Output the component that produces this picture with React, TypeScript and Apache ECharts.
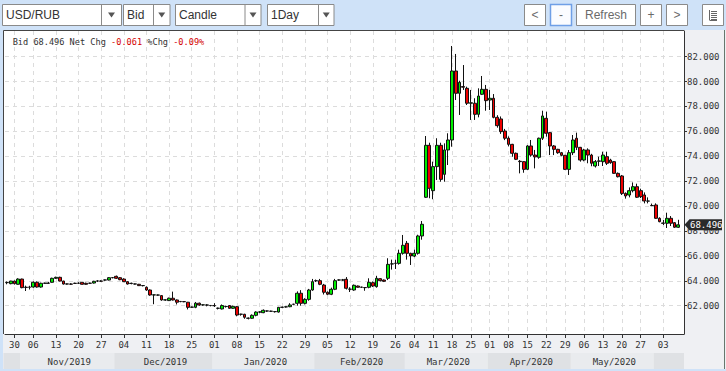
import React, { useEffect, useRef } from "react";
import * as echarts from "echarts";

// ---------- data ----------
const dates: string[] = [
  "2019-10-28","2019-10-29","2019-10-30","2019-10-31","2019-11-01","2019-11-04","2019-11-05","2019-11-06","2019-11-07","2019-11-08",
  "2019-11-09","2019-11-11","2019-11-12","2019-11-13","2019-11-14","2019-11-15","2019-11-16","2019-11-18","2019-11-19","2019-11-20",
  "2019-11-21","2019-11-22","2019-11-23","2019-11-25","2019-11-26","2019-11-27","2019-11-28","2019-11-29","2019-11-30","2019-12-02",
  "2019-12-03","2019-12-04","2019-12-05","2019-12-06","2019-12-07","2019-12-09","2019-12-10","2019-12-11","2019-12-12","2019-12-13",
  "2019-12-14","2019-12-16","2019-12-17","2019-12-18","2019-12-19","2019-12-20","2019-12-21","2019-12-23","2019-12-24","2019-12-25",
  "2019-12-26","2019-12-27","2019-12-28","2019-12-30","2019-12-31","2020-01-01","2020-01-02","2020-01-03","2020-01-04","2020-01-06",
  "2020-01-07","2020-01-08","2020-01-09","2020-01-10","2020-01-11","2020-01-13","2020-01-14","2020-01-15","2020-01-16","2020-01-17",
  "2020-01-18","2020-01-20","2020-01-21","2020-01-22","2020-01-23","2020-01-24","2020-01-25","2020-01-27","2020-01-28","2020-01-29",
  "2020-01-30","2020-01-31","2020-02-01","2020-02-03","2020-02-04","2020-02-05","2020-02-06","2020-02-07","2020-02-08","2020-02-10",
  "2020-02-11","2020-02-12","2020-02-13","2020-02-14","2020-02-15","2020-02-17","2020-02-18","2020-02-19","2020-02-20","2020-02-21",
  "2020-02-22","2020-02-24","2020-02-25","2020-02-26","2020-02-27","2020-02-28","2020-03-02","2020-03-03","2020-03-04","2020-03-05",
  "2020-03-06","2020-03-09","2020-03-10","2020-03-11","2020-03-12","2020-03-13","2020-03-16","2020-03-17","2020-03-18","2020-03-19",
  "2020-03-20","2020-03-23","2020-03-24","2020-03-25","2020-03-26","2020-03-27","2020-03-30","2020-03-31","2020-04-01","2020-04-02",
  "2020-04-03","2020-04-06","2020-04-07","2020-04-08","2020-04-09","2020-04-10","2020-04-13","2020-04-14","2020-04-15","2020-04-16",
  "2020-04-17","2020-04-20","2020-04-21","2020-04-22","2020-04-23","2020-04-24","2020-04-27","2020-04-28","2020-04-29","2020-04-30",
  "2020-05-01","2020-05-04","2020-05-05","2020-05-06","2020-05-07","2020-05-08","2020-05-11","2020-05-12","2020-05-13","2020-05-14",
  "2020-05-15","2020-05-18","2020-05-19","2020-05-20","2020-05-21","2020-05-22","2020-05-25","2020-05-26","2020-05-27","2020-05-28",
  "2020-05-29","2020-05-30","2020-06-01","2020-06-02","2020-06-03","2020-06-04","2020-06-05","2020-06-08","2020-06-09","2020-06-10",
];

const open: number[] = [
  63.85,63.77,63.98,63.72,64.14,63.48,63.48,63.50,63.88,63.50,
  63.80,63.80,63.88,64.20,64.28,63.98,63.74,63.74,63.80,63.80,
  63.88,63.80,63.80,63.82,63.98,63.98,64.06,64.06,64.25,64.36,
  64.25,64.14,63.93,63.80,63.74,63.72,63.61,63.48,63.26,62.86,
  62.86,62.81,62.46,62.41,62.60,62.46,62.33,62.33,62.28,61.88,
  61.87,62.20,62.06,62.06,62.01,62.01,61.79,61.74,61.93,62.01,
  61.79,61.92,61.31,61.31,60.99,60.99,61.23,61.49,61.44,61.57,
  61.55,61.52,61.49,61.87,61.90,61.92,62.11,62.19,63.00,62.19,
  62.51,63.26,64.00,64.01,63.66,63.08,62.92,63.32,64.06,64.06,
  64.12,63.32,63.26,63.58,63.48,63.45,63.48,63.85,63.53,64.17,
  64.06,64.20,65.35,65.40,65.40,66.21,67.01,66.21,65.99,66.21,
  67.60,70.71,74.88,71.24,73.17,74.88,72.55,74.51,75.31,80.85,
  79.06,79.60,79.46,78.26,78.26,77.37,78.98,79.38,78.52,78.66,
  77.13,77.00,76.03,75.45,74.96,74.24,73.60,73.57,72.95,74.83,
  74.10,73.92,75.45,77.05,75.90,74.83,74.56,74.29,74.08,72.95,
  74.29,75.45,74.72,73.70,74.51,74.10,73.22,73.60,73.57,73.97,
  73.70,73.57,72.63,72.42,71.02,70.89,71.24,71.56,71.24,70.89,
  70.41,70.05,70.09,69.02,68.62,68.62,69.02,68.67,68.30,
];

const close: number[] = [
  63.86,63.98,63.77,64.14,63.45,63.47,63.49,63.88,63.50,63.80,
  63.81,63.81,64.20,64.28,63.98,63.74,63.75,63.73,63.79,63.81,
  63.72,63.72,63.81,63.96,63.99,63.97,64.07,64.25,64.26,64.20,
  64.09,63.93,63.74,63.78,63.75,63.61,63.62,63.26,62.86,62.87,
  62.85,62.46,62.47,62.60,62.46,62.28,62.34,62.32,61.87,61.89,
  62.20,62.06,62.07,62.05,62.02,62.00,61.80,62.01,61.94,61.79,
  61.95,61.25,61.32,61.07,61.00,61.23,61.49,61.50,61.63,61.58,
  61.56,61.53,61.87,61.88,61.91,62.06,62.12,63.00,62.19,62.51,
  63.26,63.93,64.01,63.72,63.08,62.92,63.32,64.01,64.07,64.07,
  63.40,63.33,63.64,63.48,63.49,63.46,63.88,63.58,64.20,64.01,
  63.96,65.32,65.36,65.41,66.21,66.85,66.21,65.99,66.21,67.60,
  68.54,74.88,71.43,73.17,74.88,72.15,74.51,75.31,80.85,79.06,
  79.94,79.55,78.26,78.30,77.37,78.84,79.38,78.47,78.66,77.13,
  76.46,75.98,75.45,74.96,74.24,73.76,73.57,72.95,74.83,74.10,
  73.95,75.45,77.24,75.85,74.83,74.56,74.29,74.08,72.95,74.29,
  75.31,74.72,73.70,74.51,74.10,73.44,73.57,73.63,74.10,73.44,
  73.49,72.63,72.36,71.02,70.81,71.24,71.56,70.71,70.76,70.41,
  70.40,70.03,69.02,68.75,68.64,69.02,68.62,68.30,68.496,
];

const low: number[] = [
  63.72,63.72,63.70,63.70,63.40,63.18,63.30,63.45,63.45,63.45,
  63.75,63.75,63.85,64.15,63.95,63.70,63.70,63.68,63.75,63.74,
  63.70,63.68,63.75,63.78,63.90,63.92,64.00,64.03,64.20,64.15,
  64.05,63.90,63.70,63.72,63.70,63.58,63.55,63.20,62.80,62.12,
  62.80,62.40,62.40,62.38,62.42,62.10,62.28,62.28,61.70,61.84,
  61.80,62.00,62.00,61.95,61.95,61.90,61.70,61.70,61.85,61.75,
  61.75,61.15,61.20,60.95,60.90,60.95,61.15,61.40,61.40,61.50,
  61.50,61.45,61.45,61.80,61.85,61.88,62.05,62.00,62.00,62.10,
  62.40,63.20,63.90,63.65,62.90,62.85,62.85,63.25,64.00,64.00,
  63.30,63.10,63.20,63.45,63.44,63.20,63.40,63.50,63.45,63.95,
  63.90,64.06,64.90,64.95,65.30,66.10,65.70,65.27,65.90,66.10,
  67.30,70.65,70.63,70.55,72.10,71.96,71.96,73.30,74.77,78.52,
  77.32,79.33,78.12,76.92,76.92,77.13,78.92,77.66,77.72,77.05,
  76.30,75.80,75.30,74.80,73.97,73.70,72.63,72.68,72.90,73.97,
  73.03,73.80,75.31,75.58,74.10,74.10,74.20,74.00,72.90,72.50,
  74.10,74.50,73.57,73.60,73.44,73.20,73.10,73.22,73.22,73.30,
  73.40,72.60,72.30,70.89,70.60,70.70,71.10,70.65,70.65,70.22,
  70.22,70.00,68.97,68.70,68.48,68.24,68.40,68.25,68.25,
];

const high: number[] = [
  63.95,64.00,64.02,64.20,64.17,63.61,63.60,63.95,63.95,63.85,
  63.85,63.90,64.25,64.33,64.33,64.00,63.78,63.80,63.85,63.88,
  63.90,63.85,63.85,64.00,64.05,64.04,64.10,64.30,64.30,64.42,
  64.30,64.20,63.95,63.85,63.78,63.75,63.65,63.55,63.30,62.90,
  62.90,62.85,62.50,62.65,63.13,62.50,62.38,62.36,62.30,61.92,
  62.30,62.25,62.10,62.12,62.05,62.20,61.85,62.10,62.00,62.05,
  62.00,61.98,61.35,61.35,61.05,61.30,61.55,61.55,61.70,61.62,
  61.60,61.56,61.90,61.92,61.95,62.20,62.15,63.15,63.25,62.60,
  63.35,64.15,64.10,64.15,63.75,63.15,63.45,64.15,64.12,64.15,
  64.30,63.48,63.70,63.62,63.52,63.50,64.20,63.95,64.40,64.20,
  64.10,65.81,65.70,65.70,66.50,67.68,67.20,66.25,66.50,67.70,
  68.80,75.63,75.09,73.57,75.45,75.09,75.04,75.85,82.86,82.22,
  80.07,81.33,79.59,79.33,78.66,79.46,80.45,79.73,79.33,79.00,
  77.30,77.20,76.20,75.60,75.00,74.30,73.70,73.60,74.90,75.31,
  74.51,75.50,77.66,77.58,75.95,74.90,74.60,74.35,74.10,74.50,
  75.71,75.90,74.75,74.60,74.64,74.20,73.70,73.97,74.37,74.37,
  73.80,73.60,72.70,72.50,71.10,71.50,71.90,71.80,71.40,71.10,
  70.70,70.20,70.22,69.10,68.89,69.47,69.20,68.70,68.90,
];

const yTicks: number[] = [62, 64, 66, 68, 70, 72, 74, 76, 78, 80, 82];
const lastBid = 68.496;
const netChg = -0.061;
const pctChg = -0.09;
const monthAbbr: string[] = ["Jan","Feb","Mar","Apr","May","Jun","Jul","Aug","Sep","Oct","Nov","Dec"];
const selectLabels: string[] = ["USD/RUB", "Bid", "Candle", "1Day"];
const buttonLabels: string[] = ["<", "-", "Refresh", "+", ">"];

const MONO = '"DejaVu Sans Mono", monospace';
const SANS = '"Liberation Sans", Arial, sans-serif';

export default function App() {
  const ref = useRef<HTMLDivElement>(null);

  useEffect(() => {
    document.body.style.margin = "0";
    const el = ref.current!;
    const chart = echarts.init(el, null, { renderer: "svg" });

    const isWed = (i: number) => {
      const d = dates[i];
      return i < open.length && !!d && new Date(d + "T00:00:00Z").getUTCDay() === 3;
    };
    const candle = open.map((o, i) => [o, close[i], low[i], high[i]]);

    chart.setOption({
      animation: false,
      backgroundColor: "#eff0f3",
      grid: { left: 5, right: 42, top: 31, bottom: 37, show: true, backgroundColor: "#ffffff", borderWidth: 0 },
      xAxis: {
        type: "category",
        data: dates,
        boundaryGap: true,
        axisLine: { show: true, lineStyle: { color: "#333", width: 1 } },
        axisTick: { show: true, alignWithLabel: true, interval: (i: number) => isWed(i), length: 4, lineStyle: { color: "#333" } },
        axisLabel: {
          interval: (i: number) => isWed(i),
          formatter: (v: string) => v.slice(8, 10),
          fontFamily: MONO, fontSize: 9, color: "#333", margin: 6,
        },
        splitLine: {
          show: true, alignWithLabel: true, interval: (i: number) => isWed(i),
          lineStyle: { color: "#dcdcdc", type: [4, 4], width: 1 },
        },
      },
      yAxis: {
        type: "value",
        position: "right",
        min: 59.727,
        max: 84.064,
        axisLine: { show: true, lineStyle: { color: "#333", width: 1 } },
        axisTick: { show: true, length: 3, customValues: yTicks, lineStyle: { color: "#333" } },
        axisLabel: {
          customValues: yTicks,
          formatter: (v: number) => v.toFixed(3),
          fontFamily: MONO, fontSize: 9, color: "#333", margin: 3,
        },
        splitLine: { show: true, lineStyle: { color: "#dcdcdc", type: [4, 4], width: 1 } },
      },
      series: [
        {
          type: "candlestick",
          data: candle,
          barWidth: 3.3,
          itemStyle: {
            color: "#00ee00",
            color0: "#ee0000",
            borderColor: "#111",
            borderColor0: "#111",
            borderWidth: 1,
          },
        },
      ],
    });

    const xOf = (i: number) => chart.convertToPixel({ xAxisIndex: 0 }, i) as number;
    const yOf = (v: number) => chart.convertToPixel({ yAxisIndex: 0 }, v) as number;
    const slot = xOf(1) - xOf(0);
    const Z = 100;
    const els: any[] = [];
    const text = (x: number, y: number, t: string, font: string, fill: string, align = "left") => ({
      type: "text", x, y, z: Z, silent: true,
      style: { text: t, font, fill, textAlign: align, textVerticalAlign: "middle" },
    });
    const rect = (x: number, y: number, w: number, h: number, fill: string, stroke?: string, lw = 1) => ({
      type: "rect", z: Z, silent: true, shape: { x, y, width: w, height: h },
      style: stroke ? { fill, stroke, lineWidth: lw } : { fill },
    });
    const line = (x1: number, y1: number, x2: number, y2: number, stroke: string, lw = 1) => ({
      type: "line", z: Z, silent: true, shape: { x1, y1, x2, y2 }, style: { stroke, lineWidth: lw },
    });

    // outer frame
    els.push(rect(0, 0, 726, 30, "#cfe2f8"));
    els.push(rect(0, 30, 3, 341, "#cfe2f8"));
    els.push(rect(0, 369, 726, 2, "#cfe2f8"));
    els.push(rect(3.5, 30.5, 1.5, 303.5, "#ffffff"));
    els.push(line(3.5, 30.5, 684, 30.5, "#444"));
    els.push(line(3.5, 30.5, 3.5, 334, "#444"));
    els.push(line(724.5, 30, 724.5, 369, "#66776d"));

    // month bands
    const groups: { key: string; first: number; last: number }[] = [];
    dates.forEach((d, i) => {
      const key = d.slice(0, 7);
      const g = groups[groups.length - 1];
      if (g && g.key === key) g.last = i;
      else groups.push({ key, first: i, last: i });
    });
    groups.forEach((g, gi) => {
      const x0 = gi === 0 ? 3.5 : xOf(g.first) - slot / 2;
      const x1 = xOf(g.last) + slot / 2;
      els.push(rect(x0, 353, x1 - x0, 16, gi % 2 === 0 ? "#dfe1e4" : "#e9ebee"));
      if (x1 - x0 > 50) {
        const m = monthAbbr[parseInt(g.key.slice(5, 7), 10) - 1];
        els.push(text((x0 + x1) / 2 + 2, 361.5, `${m}/${g.key.slice(0, 4)}`, `9px ${MONO}`, "#333", "center"));
      }
    });

    // legend line
    const cw = 8.6 * 0.602;
    const parts: [string, string][] = [
      [`Bid ${lastBid.toFixed(3)} Net Chg `, "#333"],
      [netChg.toFixed(3), "#d40000"],
      [" %Chg ", "#333"],
      [`${pctChg.toFixed(2)}%`, "#d40000"],
    ];
    let cx = 12.7;
    parts.forEach(([t, c]) => {
      els.push(text(cx, 41.5, t, `8.6px ${MONO}`, c));
      cx += t.length * cw;
    });

    // last price marker
    const ly = yOf(close[close.length - 1]);
    els.push({
      type: "polygon", z: Z + 1, silent: true,
      shape: { points: [[684.5, ly], [689.5, ly - 5.5], [722, ly - 5.5], [722, ly + 5.5], [689.5, ly + 5.5]] },
      style: { fill: "#2a2a2a" },
    });
    els.push({ ...text(690, ly + 0.5, close[close.length - 1].toFixed(3), `9px ${MONO}`, "#ffffff"), z: Z + 2 });

    // toolbar selects
    const selects: [number, number, number][] = [[2.5, 121.5, 101.5], [123.5, 170, 153.5], [175.5, 261, 245], [267.5, 334, 318.5]];
    selects.forEach(([x0, x1, dv], i) => {
      els.push(rect(x0, 4.5, x1 - x0, 21, "#ffffff", "#8a8a8a"));
      els.push(line(dv, 4.5, dv, 25.5, "#8a8a8a"));
      els.push(text(x0 + 3.5, 15.2, selectLabels[i], `12px ${SANS}`, "#333"));
      const c = (dv + x1) / 2;
      els.push({
        type: "polygon", z: Z, silent: true,
        shape: { points: [[c - 3.5, 12.5], [c + 3.5, 12.5], [c, 17.5]] },
        style: { fill: "#555" },
      });
    });

    // toolbar buttons
    const buttons: [number, number][] = [[524.5, 545.5], [550.5, 571.5], [576.5, 635.5], [640.5, 661.5], [666.5, 687.5]];
    buttons.forEach(([x0, x1], i) => {
      const focused = i === 1;
      els.push(rect(x0, 4.5, x1 - x0, 21, focused ? "#fbfcff" : "#ffffff", focused ? "#6f9fe6" : "#8a8a8a", focused ? 1.5 : 1));
      els.push(text((x0 + x1) / 2, 15.2, buttonLabels[i], `12px ${SANS}`, "#6a6a6a", "center"));
    });
    els.push(rect(702.5, 4.5, 21, 21, "#ffffff", "#8a8a8a"));
    els.push(line(709.5, 10, 709.5, 20, "#666"));
    [11, 13, 15, 17, 19].forEach((yy) => els.push(line(711, yy + 0.5, 717, yy + 0.5, "#666")));
    els.push(line(709.5, 20.5, 717, 20.5, "#666"));

    chart.setOption({ graphic: { elements: els } });

    return () => chart.dispose();
  }, []);

  return <div ref={ref} style={{ position: "absolute", left: 0, top: 0, width: 726, height: 371 }} />;
}
